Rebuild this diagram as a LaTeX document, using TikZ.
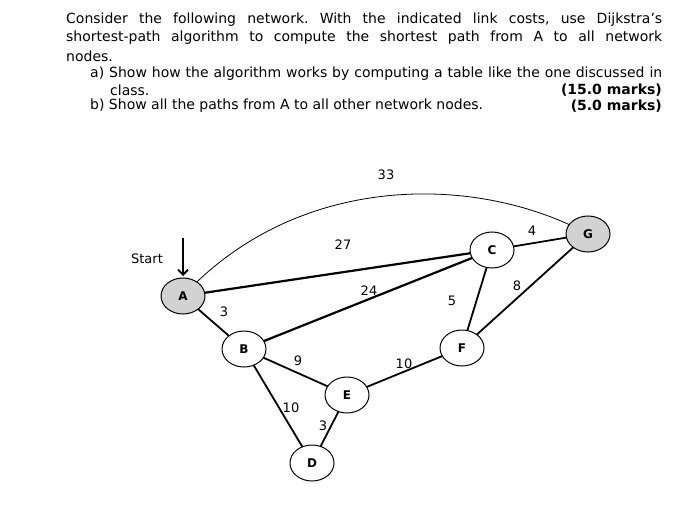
\documentclass[tikz,border=0pt]{standalone}
\usepackage{fontspec}
\setmainfont{DejaVu Sans}
\usetikzlibrary{shapes.geometric,arrows.meta}
\begin{document}
\begin{tikzpicture}[x=1pt,y=-1pt,
  nd/.style={ellipse,draw,line width=1pt,fill=white,minimum width=44pt,minimum height=36pt,inner sep=0pt,font=\fontsize{12}{12}\selectfont\bfseries},
  gnd/.style={nd,fill=gray!35},
  ln/.style={line width=1.8pt},
  tk/.style={line width=2.2pt},
  lb/.style={font=\fontsize{13}{13}\selectfont},
  tx/.style={anchor=west,inner sep=0pt,font=\fontsize{14}{15}\selectfont}]
\useasboundingbox (0,0) rectangle (700,529);
\frenchspacing
\node[tx] (l1) at (66,20) {\frenchspacing\makebox[596pt][s]{Consider the following network. With the indicated link costs, use Dijkstra’s}};
\node[tx] (l2) at (66,38) {\makebox[596pt][s]{shortest-path algorithm to compute the shortest path from A to all network}};
\node[tx] (l3) at (66,56) {nodes.};
\node[tx] (l4) at (90,74) {\makebox[572pt][s]{a) Show how the algorithm works by computing a table like the one discussed in}};
\node[tx] (l5) at (110,90) {class.};
\node[tx,anchor=east] (m1) at (662,90) {\bfseries (15.0 marks)};
\node[tx] (l6) at (90,106) {b) Show all the paths from A to all other network nodes.};
\node[tx,anchor=east] (m2) at (662,106) {\bfseries (5.0 marks)};

\coordinate (s0) at (183,238);
\draw[line width=1.8pt,-{Straight Barb[length=5pt]}] (s0) -- (183,276);
\draw[line width=0.8pt] (183,296) .. controls (300,170) and (480,175) .. (588,234);
\draw[tk] (183,296) -- (492,250);
\draw[tk] (244,349) -- (492,250);
\draw[ln] (183,296) -- (244,349);
\draw[ln] (244,349) -- (347,395);
\draw[ln] (244,349) -- (312,463);
\draw[ln] (347,395) -- (312,463);
\draw[ln] (347,395) -- (462,348);
\draw[ln] (492,250) -- (462,348);
\draw[ln] (492,250) -- (588,234);
\draw[ln] (462,348) -- (588,234);

\node[gnd] (A) at (183,296) {A};
\node[nd] (B) at (244,349) {B};
\node[nd] (C) at (492,250) {C};
\node[gnd] (G) at (588,234) {G};
\node[nd] (F) at (462,348) {F};
\node[nd] (E) at (347,395) {E};
\node[nd] (D) at (312,463) {D};
\node[lb] (st) at (147,259) {Start};

\node[lb] at (386,175) {33};
\node[lb] at (343,245) {27};
\node[lb] at (224,312) {3};
\node[lb] at (369,291) {24};
\node[lb] at (298,361) {9};
\node[lb] at (291,408) {10};
\node[lb] at (323,426) {3};
\node[lb] at (404,364) {10};
\node[lb] at (452,301) {5};
\node[lb] at (532,231) {4};
\node[lb] at (517,286) {8};
\end{tikzpicture}
\end{document}
